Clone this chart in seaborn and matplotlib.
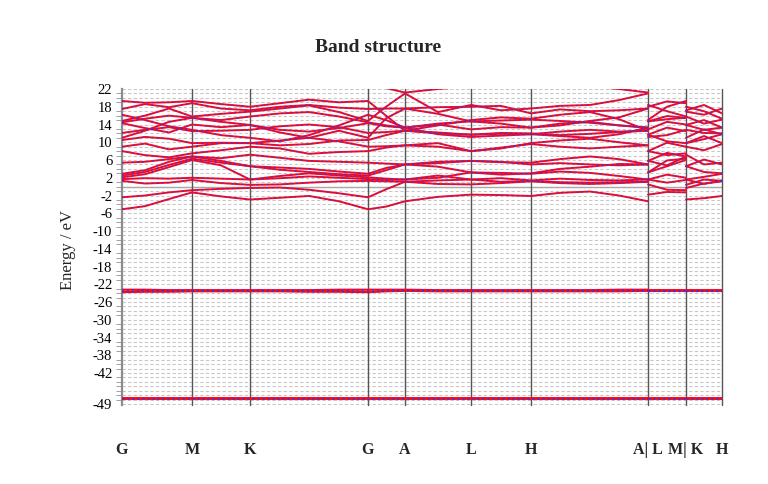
import matplotlib
matplotlib.use("Agg")
import matplotlib.pyplot as plt
import seaborn as sns
import pandas as pd
from matplotlib.ticker import MultipleLocator, FixedLocator

sns.set_theme(style="white")
plt.rcParams['font.family'] = ['Liberation Serif', 'DejaVu Serif']

# k-path positions (G M K G A L H A | L M | K H)
k_main = [0, 23, 47, 70, 99, 128, 158, 187, 217, 246, 264, 283, 316, 349, 379, 409, 438, 468, 497, 526]
k_lm = [526, 545, 564]
k_kh = [564, 582, 600]
k_ticks = [0, 70, 128, 246, 283, 349, 409, 526, 564, 600]
k_labels = ["G", "M", "K", "G", "A", "L", "H", "A| L", "M| K", "H"]
y_ticks = [22, 18, 14, 10, 6, 2, -2, -6, -10, -14, -18, -22, -26, -30, -34, -38, -42, -49]

# band energies (eV): (main path, L->M, K->H)
b01 = ([-5.1, -4.4, -2.8, -1.3, -2.2, -2.9, -2.5, -2.1, -3.3, -5.1, -4.5, -3.3, -2.3, -1.8, -1.9, -2.1, -1.4, -1.1, -2.0, -3.3], [-1.8, -1.2, -1.3], [-2.9, -2.6, -2.1])
b02 = ([-2.4, -2.0, -1.3, -0.8, -0.5, -0.3, -0.2, -0.7, -1.5, -2.4, -0.6, 1.1, 0.6, 0.5, 0.8, 1.2, 0.8, 0.6, 0.8, 1.1], [0.5, -0.7, -0.8], [-0.3, 0.7, 1.2])
b03 = ([1.3, 0.7, 0.9, 1.5, 0.8, 0.4, 0.5, 0.9, 1.2, 1.3, 1.2, 1.1, 1.4, 1.6, 1.1, 1.3, 1.0, 0.9, 1.0, 1.1], [1.6, 0.9, 1.5], [0.4, 1.6, 1.3])
b04 = ([1.7, 1.9, 1.8, 2.0, 1.8, 1.6, 1.9, 2.3, 2.0, 1.7, 1.5, 1.6, 2.5, 1.6, 1.9, 1.4, 1.8, 1.5, 1.4, 1.6], [1.6, 2.7, 2.0], [1.6, 0.6, 1.4])
b05 = ([2.1, 2.8, 4.4, 6.0, 4.8, 1.6, 2.4, 3.0, 2.5, 2.1, 1.8, 1.6, 2.0, 3.2, 3.1, 2.9, 3.4, 3.1, 2.4, 1.6], [3.2, 4.6, 6.0], [1.6, 2.2, 2.9])
b06 = ([2.5, 3.3, 4.9, 6.3, 5.4, 4.6, 3.8, 3.3, 2.8, 2.5, 3.7, 5.0, 4.5, 3.2, 2.7, 3.0, 4.0, 4.5, 5.1, 5.0], [3.2, 5.9, 6.3], [4.6, 3.3, 3.0])
b07 = ([2.9, 3.7, 5.6, 6.8, 5.8, 4.6, 4.3, 4.0, 3.4, 2.9, 4.2, 5.0, 5.3, 5.8, 5.6, 5.0, 5.3, 5.0, 4.8, 5.0], [5.8, 4.8, 6.8], [4.6, 6.1, 5.0])
b08 = ([5.4, 5.6, 6.2, 6.8, 6.4, 7.2, 6.5, 5.8, 5.6, 5.4, 5.2, 5.0, 5.6, 5.8, 5.5, 5.4, 6.2, 6.8, 6.2, 5.0], [5.8, 7.6, 6.8], [7.2, 5.0, 5.4])
b09 = ([8.0, 7.1, 6.6, 7.5, 8.2, 9.0, 8.6, 7.4, 7.8, 8.0, 8.8, 9.3, 9.0, 8.0, 8.8, 9.6, 9.0, 8.6, 9.0, 9.3], [8.0, 7.1, 7.5], [9.0, 8.2, 9.6])
b10 = ([9.0, 9.7, 8.4, 9.0, 9.8, 9.8, 10.4, 11.0, 10.2, 9.0, 9.1, 9.3, 9.8, 8.0, 8.6, 9.8, 10.4, 10.8, 10.0, 9.3], [8.0, 9.9, 9.0], [9.8, 11.4, 9.8])
b11 = ([10.5, 11.2, 10.8, 9.8, 9.9, 9.8, 9.3, 9.6, 10.4, 10.5, 11.6, 12.6, 12.2, 11.7, 11.9, 11.8, 12.4, 12.8, 12.4, 12.6], [11.7, 10.2, 9.8], [9.8, 10.7, 11.8])
b12 = ([12.1, 12.8, 13.4, 12.5, 12.6, 12.8, 13.6, 14.0, 13.4, 12.1, 12.3, 12.6, 12.0, 11.7, 12.1, 12.0, 11.6, 11.9, 12.3, 12.6], [11.7, 13.3, 12.5], [12.8, 12.1, 12.0])
b13 = ([14.3, 13.2, 12.2, 14.0, 13.4, 13.9, 12.8, 12.4, 13.2, 14.3, 13.6, 13.3, 14.0, 12.9, 13.4, 13.3, 14.2, 14.6, 13.8, 13.3], [12.9, 14.6, 14.0], [13.9, 15.0, 13.3])
b14 = ([14.5, 15.3, 16.0, 15.5, 15.0, 15.8, 16.5, 16.8, 15.8, 14.5, 13.8, 13.3, 14.2, 14.7, 14.9, 15.1, 14.8, 14.4, 13.8, 13.3], [14.7, 15.9, 15.5], [15.8, 14.2, 15.1])
b15 = ([14.8, 16.0, 17.6, 15.8, 16.4, 16.9, 17.6, 18.3, 16.8, 14.8, 18.0, 21.0, 16.8, 18.4, 17.2, 17.6, 18.2, 18.4, 19.5, 21.0], [18.4, 17.0, 15.8], [16.9, 16.2, 17.6])
b16 = ([17.5, 18.6, 17.9, 18.8, 17.6, 17.2, 18.0, 18.4, 17.8, 17.5, 17.6, 17.6, 17.9, 18.0, 18.2, 16.5, 17.4, 17.0, 17.2, 17.6], [18.0, 19.2, 18.8], [17.2, 18.4, 16.5])
b17 = ([19.3, 18.9, 19.0, 19.3, 18.6, 18.0, 18.8, 19.6, 19.0, 19.3, 16.0, 12.6, 13.8, 15.0, 15.6, 15.3, 16.2, 16.8, 15.2, 12.6], [15.0, 18.0, 19.3], [18.0, 17.0, 15.3])
b18 = ([23.5, 23.2, 22.8, 22.6, 22.9, 23.3, 22.8, 22.5, 22.8, 23.5, 22.2, 21.2, 22.0, 22.6, 23.0, 23.4, 23.0, 22.6, 22.0, 21.2], [22.6, 22.4, 22.6], [23.3, 23.0, 23.4])
b19 = ([11.0, 12.6, 14.6, 15.5, 14.6, 13.9, 12.2, 11.0, 12.6, 11.0, 15.4, 17.6, 16.4, 14.7, 14.2, 13.3, 13.8, 14.8, 15.6, 17.6], [14.7, 15.2, 15.5], [13.9, 12.8, 13.3])
b20 = ([16.2, 15.0, 13.6, 12.8, 11.6, 11.0, 10.2, 11.6, 13.8, 16.2, 15.0, 13.3, 11.8, 11.2, 11.5, 11.8, 11.4, 11.0, 11.8, 13.3], [11.2, 11.6, 12.8], [11.0, 12.9, 11.8])
f01 = ([-23.2, -23.2, -23.3, -23.3, -23.3, -23.3, -23.3, -23.3, -23.2, -23.2, -23.2, -23.2, -23.3, -23.3, -23.3, -23.3, -23.3, -23.3, -23.2, -23.2], [-23.3, -23.3, -23.3], [-23.3, -23.3, -23.3])
f02 = ([-23.6, -23.5, -23.5, -23.5, -23.5, -23.5, -23.5, -23.5, -23.5, -23.6, -23.5, -23.4, -23.5, -23.5, -23.5, -23.5, -23.5, -23.5, -23.5, -23.4], [-23.5, -23.5, -23.5], [-23.5, -23.5, -23.5])
f03 = ([-23.8, -23.7, -23.7, -23.6, -23.6, -23.6, -23.6, -23.7, -23.7, -23.8, -23.6, -23.5, -23.6, -23.6, -23.6, -23.6, -23.6, -23.6, -23.6, -23.5], [-23.6, -23.6, -23.6], [-23.6, -23.6, -23.6])
d01 = ([-47.6, -47.6, -47.6, -47.6, -47.6, -47.6, -47.6, -47.6, -47.6, -47.6, -47.6, -47.6, -47.6, -47.6, -47.6, -47.6, -47.6, -47.6, -47.6, -47.6], [-47.6, -47.6, -47.6], [-47.6, -47.6, -47.6])
d02 = ([-47.8, -47.8, -47.8, -47.8, -47.8, -47.8, -47.8, -47.8, -47.8, -47.8, -47.8, -47.8, -47.8, -47.8, -47.8, -47.8, -47.8, -47.8, -47.8, -47.8], [-47.8, -47.8, -47.8], [-47.8, -47.8, -47.8])

bands = [b01, b02, b03, b04, b05, b06, b07, b08, b09, b10, b11, b12, b13, b14, b15, b16, b17, b18,
         b19, b20, f01, f02, f03, d01, d02]

rows = []
for i, band in enumerate(bands):
    for p, (ks, es) in enumerate(zip([k_main, k_lm, k_kh], band)):
        for k, e in zip(ks, es):
            rows.append({"k": k, "E": e, "line": f"{i}-{p}"})
df = pd.DataFrame(rows)

fig = plt.figure(figsize=(7.68, 4.84), dpi=100)
ax = fig.add_axes([122 / 768, 1 - 405 / 484, 600 / 768, 316 / 484])

ax.set_xlim(0, 600)
ax.set_ylim(-49.2, 22)

# grid: dashed every 1 eV
ax.yaxis.set_major_locator(FixedLocator(y_ticks))
ax.yaxis.set_minor_locator(MultipleLocator(1))
ax.grid(which="both", axis="y", color="#c8c8c8", lw=0.8, ls=(0, (3, 2)), zorder=0)
ax.grid(which="both", axis="x", visible=False)
ax.axhline(0, color="#a8a8a8", lw=1.0, zorder=1)

for k in k_ticks[1:]:
    ax.axvline(k, color="#555555", lw=1.0, zorder=1, clip_on=False)

sns.lineplot(data=df, x="k", y="E", units="line", estimator=None, sort=False,
             color="#ff0a14", lw=1.4, ax=ax, legend=False, zorder=3)
sns.lineplot(data=df, x="k", y="E", units="line", estimator=None, sort=False,
             color="#3030ff", lw=0.9, alpha=0.75, linestyle=(0, (1.5, 2.5)),
             ax=ax, legend=False, zorder=4)

for s in ["top", "right", "bottom"]:
    ax.spines[s].set_visible(False)
ax.spines["left"].set_color("#8c8c8c")
ax.spines["left"].set_linewidth(1.6)

ax.set_yticks(y_ticks)
ax.set_yticklabels([str(t) for t in y_ticks], fontsize=10.5, color="black")
ax.tick_params(axis="y", which="major", direction="out", length=6, width=0.8,
               color="#8c8c8c", pad=1)
ax.tick_params(axis="y", which="minor", direction="out", length=4, width=0.7,
               color="#a0a0a0", left=True)

ax.set_xticks(k_ticks)
ax.set_xticklabels(k_labels, fontsize=11.5, fontweight="bold")
ax.tick_params(axis="x", length=0, pad=27)
ax.set_xlabel("")
ax.set_ylabel("")

fig.text(378 / 768, 1 - 48 / 484, "Band structure", ha="center", va="center",
         fontsize=14, fontweight="bold")
fig.text(68 / 768, 1 - 250 / 484, "Energy / eV", rotation=90, ha="center",
         va="center", fontsize=12)

fig.savefig("out.png", dpi=100)
